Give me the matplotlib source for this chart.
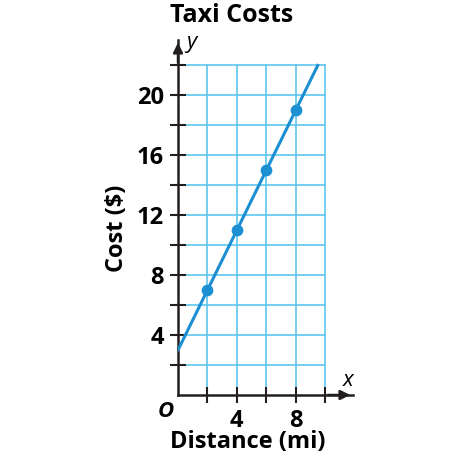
import matplotlib
matplotlib.use("Agg")
import matplotlib.pyplot as plt
import numpy as np

plt.rcParams['font.family'] = ['Open Sans', 'DejaVu Sans']

distance = [2, 4, 6, 8]
cost = [7, 11, 15, 19]
line_x = [0, 9.5]
line_y = [3, 22]
xticks = [4, 8]
yticks = [4, 8, 12, 16, 20]

fig = plt.figure(figsize=(4.74, 4.59), dpi=100)
ax = fig.add_axes([178/474, 64/459, 175/474, 355/459])
ax.set_xlim(0, 11.9)
ax.set_ylim(0, 23.7)
for s in ['top', 'right']:
    ax.spines[s].set_visible(False)
for s in ['left', 'bottom']:
    ax.spines[s].set_linewidth(1.8)
    ax.spines[s].set_color('#231f20')

grid_c = '#5cc6ef'
for gx in np.arange(2, 11, 2):
    ax.plot([gx, gx], [0, 22], color=grid_c, lw=1.2, zorder=1)
for gy in np.arange(2, 23, 2):
    ax.plot([0, 10], [gy, gy], color=grid_c, lw=1.2, zorder=1)

ax.plot(line_x, line_y, color='#1b8fd2', lw=2.2, zorder=3)
ax.scatter(distance, cost, color='#1b8fd2', s=55, zorder=4)

ax.set_xticks(np.arange(2, 11, 2))
ax.set_yticks(np.arange(2, 23, 2))
ax.set_yticklabels([str(t) if t in yticks else '' for t in range(2, 23, 2)])
ax.tick_params(direction='inout', length=12, width=1.5, color='#231f20',
               labelsize=17, pad=4)
ax.set_xticklabels([str(t) if t in xticks else '' for t in range(2, 11, 2)], fontweight='bold')
for lab in ax.get_yticklabels():
    lab.set_fontweight('bold')

ax.annotate('', xy=(11.9, 0), xytext=(10, 0),
            arrowprops=dict(arrowstyle='-|>', color='#231f20', lw=1.8, mutation_scale=14),
            annotation_clip=False)
ax.annotate('', xy=(0, 23.7), xytext=(0, 22),
            arrowprops=dict(arrowstyle='-|>', color='#231f20', lw=1.8, mutation_scale=14),
            annotation_clip=False)

ax.text(11.6, 1.0, 'x', fontsize=16, style='italic', ha='center', va='center')
ax.text(0.9, 23.5, 'y', fontsize=16, style='italic', ha='center', va='center')
ax.text(-0.8, -1.1, 'O', fontsize=16, style='italic', fontweight='bold', ha='center', va='center')

ax.set_xlabel('Distance (mi)', fontsize=17, fontweight='bold', labelpad=-2, x=0.4)
ax.set_ylabel('Cost ($)', fontsize=17, fontweight='bold', labelpad=6, y=0.47)
fig.text(232/474, 1 - 15/459, 'Taxi Costs', fontsize=18, fontweight='bold',
         ha='center', va='center')

fig.savefig('out.png', dpi=100)
